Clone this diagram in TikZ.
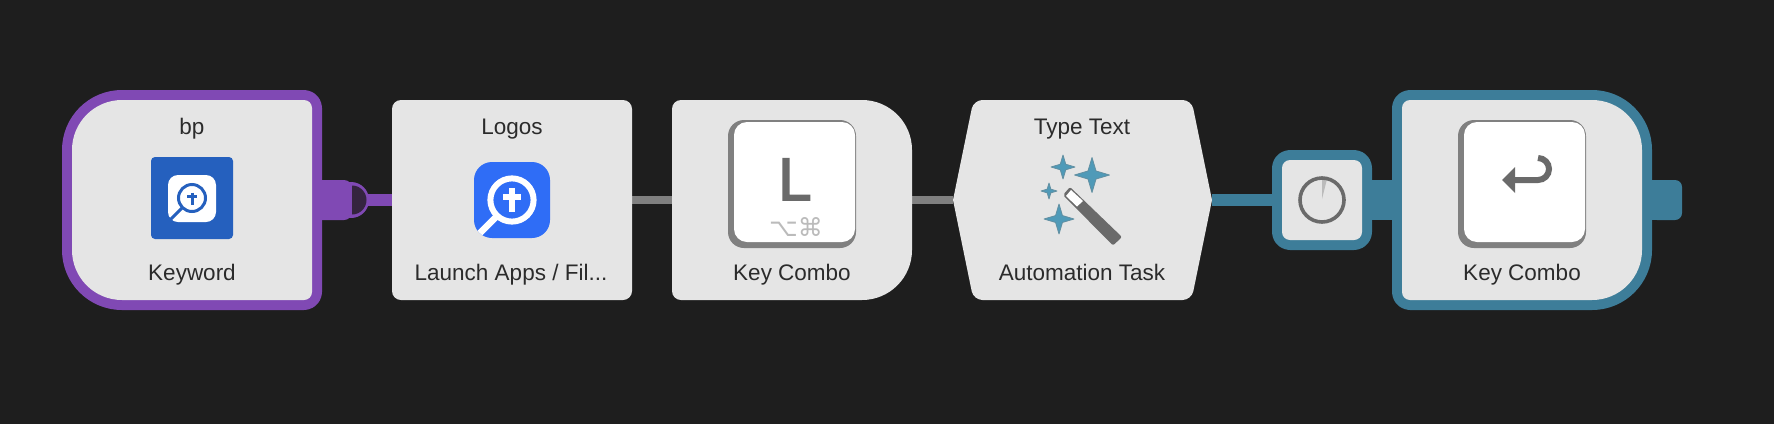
\documentclass[tikz,border=0pt]{standalone}
\usepackage{fontspec}
\setmainfont{Liberation Sans}
\newfontfamily\symfont{DejaVu Sans}
\newfontfamily\keyfont[FakeBold=2.5]{Liberation Sans}
\usetikzlibrary{calc}
\definecolor{bgc}{HTML}{1E1E1E}
\definecolor{nodec}{HTML}{E5E5E5}
\definecolor{txtc}{HTML}{2B2B2B}
\definecolor{purp}{HTML}{8049B4}
\definecolor{purpd}{HTML}{35243F}
\definecolor{teal}{HTML}{3D7D99}
\definecolor{wire}{HTML}{808080}
\definecolor{glyph}{HTML}{6A6A6A}
\definecolor{modc}{HTML}{BBBBBB}
\definecolor{logod}{HTML}{2560BE}
\definecolor{logol}{HTML}{2F6DF6}
\definecolor{spark}{HTML}{4F9AB8}
\tikzset{
  box/.style={minimum width=240pt,minimum height=200pt,inner sep=0pt,outer sep=0pt},
  lbl/.style={text=txtc,anchor=base,inner sep=0pt,font=\fontsize{22.5}{26}\selectfont},
  halo/.style={line width=20pt,line join=round},
  sparkstyle/.style={fill=spark,draw=spark!60!gray,line width=0.8pt,line join=round},
}
% rounded outline of a named box: radii are tl, tr, br, bl
\newcommand{\boxpath}[5]{[rounded corners=#2] (#1.west) -- (#1.north west) [rounded corners=#3] -- (#1.north east) [rounded corners=#4] -- (#1.south east) [rounded corners=#5] -- (#1.south west) -- cycle}
\newcommand{\sparkle}[3]{\filldraw[sparkstyle,shift={(#1,#2)},scale=#3] (0,-1) -- (.23,-.23) -- (1,0) -- (.23,.23) -- (0,1) -- (-.23,.23) -- (-1,0) -- (-.23,-.23) -- cycle;}
\newcommand{\keycap}[1]{%
  \fill[wire,rounded corners=16pt,shift={(#1,0)}] (-64,120) rectangle (64,248);
  \fill[white,rounded corners=13pt,shift={(#1,0)}] (-58,122) rectangle (63,242);}
\begin{document}
\begin{tikzpicture}[x=1pt,y=-1pt]
\useasboundingbox (0,0) rectangle (1774,424);
\fill[bgc] (0,0) rectangle (1774,424);
% anchors of the boxes
\node[box] (kw) at (192,200) {};
\node[box] (logos) at (512,200) {};
\node[box] (combo) at (792,200) {};
\node[box,minimum width=259pt] (task) at (1082.5,200) {};
\node[box,minimum width=80pt,minimum height=80pt] (delay) at (1322,200) {};
\node[box] (ret) at (1522,200) {};
\coordinate (stub) at (1682,200);
% connectors
\draw[purp,line width=12pt] (kw.east) -- (logos.west);
\draw[wire,line width=8pt] (logos.east) -- (combo.west);
\draw[wire,line width=8pt] (combo.east) -- (task.west);
\draw[teal,line width=12pt] (task.east) -- (delay.west);
\draw[teal,line width=40pt] (delay.east) -- (ret.west);
% purple port
\fill[purp] (351,200) circle (18);
\fill[purp,rounded corners=8pt] (312,180) rectangle (352,220);
\fill[purpd] (352,185.5) arc[start angle=-90,end angle=90,radius=14.5] -- cycle;
% teal stub
\fill[teal] (1642,180) rectangle (1660,220);
\fill[teal,rounded corners=7pt] (1650,180) rectangle (stub |- 0,220);
% keyword box
\draw[purp,halo] \boxpath{kw}{50pt}{8pt}{8pt}{50pt};
\fill[nodec] \boxpath{kw}{50pt}{8pt}{8pt}{50pt};
% logos box
\fill[nodec] \boxpath{logos}{9pt}{9pt}{9pt}{9pt};
% combo box
\fill[nodec] \boxpath{combo}{9pt}{50pt}{50pt}{9pt};
% task hexagon
\fill[nodec] [sharp corners] (task.west) [rounded corners=9pt] -- (973.5,100) -- (1191.5,100) [sharp corners] -- (task.east) [rounded corners=9pt] -- (1191.5,300) -- (973.5,300) [sharp corners] -- cycle;
% delay box
\draw[teal,halo] \boxpath{delay}{8pt}{8pt}{8pt}{8pt};
\fill[nodec] \boxpath{delay}{8pt}{8pt}{8pt}{8pt};
% return box
\draw[teal,halo] \boxpath{ret}{8pt}{50pt}{50pt}{8pt};
\fill[nodec] \boxpath{ret}{8pt}{50pt}{50pt}{8pt};
% keyword icon
\fill[logod,rounded corners=4pt] (151,157) rectangle (233,239);
\fill[white,rounded corners=10pt] (168,175) rectangle (216,222);
\fill[logod] (164,226) -- (167,215) -- (174,222.5) -- cycle;
\draw[logod,line width=3pt] (192,198) circle (13.5);
\draw[logod,line width=3pt] (182,208) -- (170.5,219.5);
\draw[logod,line width=3pt] (192,192.5) -- (192,205) (187,196.7) -- (197,196.7);
% logos icon
\fill[logol,rounded corners=18pt] (474,162) rectangle (550,238);
\begin{scope}
\clip[rounded corners=18pt] (474,162) rectangle (550,238);
\draw[white,line width=6pt] (512,200) circle (21.6);
\draw[white,line width=6.5pt] (497,216) -- (476,237);
\end{scope}
\fill[white] (509,188) rectangle (515,212);
\fill[white] (503,194) rectangle (521,200);
% key caps
\keycap{792}
\keycap{1522}
\node[text=glyph,anchor=base,inner sep=0pt,font=\keyfont\fontsize{60}{60}\selectfont] (capL) at (795,200) {L};
\node[text=modc,anchor=base,inner sep=0pt,font=\symfont\fontsize{25}{25}\selectfont] (capmod) at (796,236) {⌥⌘};
% return glyph
\fill[glyph] (1502,180) -- (1515,167) -- (1515,193) -- cycle;
\draw[glyph,line width=6pt] (1513,180) -- (1538,180) arc[start angle=90,end angle=-90,radius=11];
% wand
\fill[glyph,rounded corners=2pt] (1063,195) -- (1070,187) -- (1122,237) -- (1113,245.5) -- cycle;
\fill[white] (1066,196) -- (1071,190) -- (1083,201) -- (1077,206.5) -- cycle;
\sparkle{1063}{167}{12}
\sparkle{1092}{175}{17.5}
\sparkle{1049}{191}{8}
\sparkle{1059}{219}{15}
% delay clock
\fill[modc] (1322,199) -- (1322,179) -- (1327,179) -- cycle;
\draw[glyph,line width=3.6pt] (delay.center) circle (22);
% labels
\node[lbl] (t1) at (192,134) {bp};
\node[lbl] (b1) at (192,280) {Keyword};
\node[lbl] (t2) at (512,134) {Logos};
\node[lbl] (b2) at (511,280) {Launch Apps / Fil...};
\node[lbl] (b3) at (792,280) {Key Combo};
\node[lbl] (t4) at (1082,134) {Type Text};
\node[lbl] (b4) at (1082,280) {Automation Task};
\node[lbl] (b5) at (1522,280) {Key Combo};
\end{tikzpicture}
\end{document}
